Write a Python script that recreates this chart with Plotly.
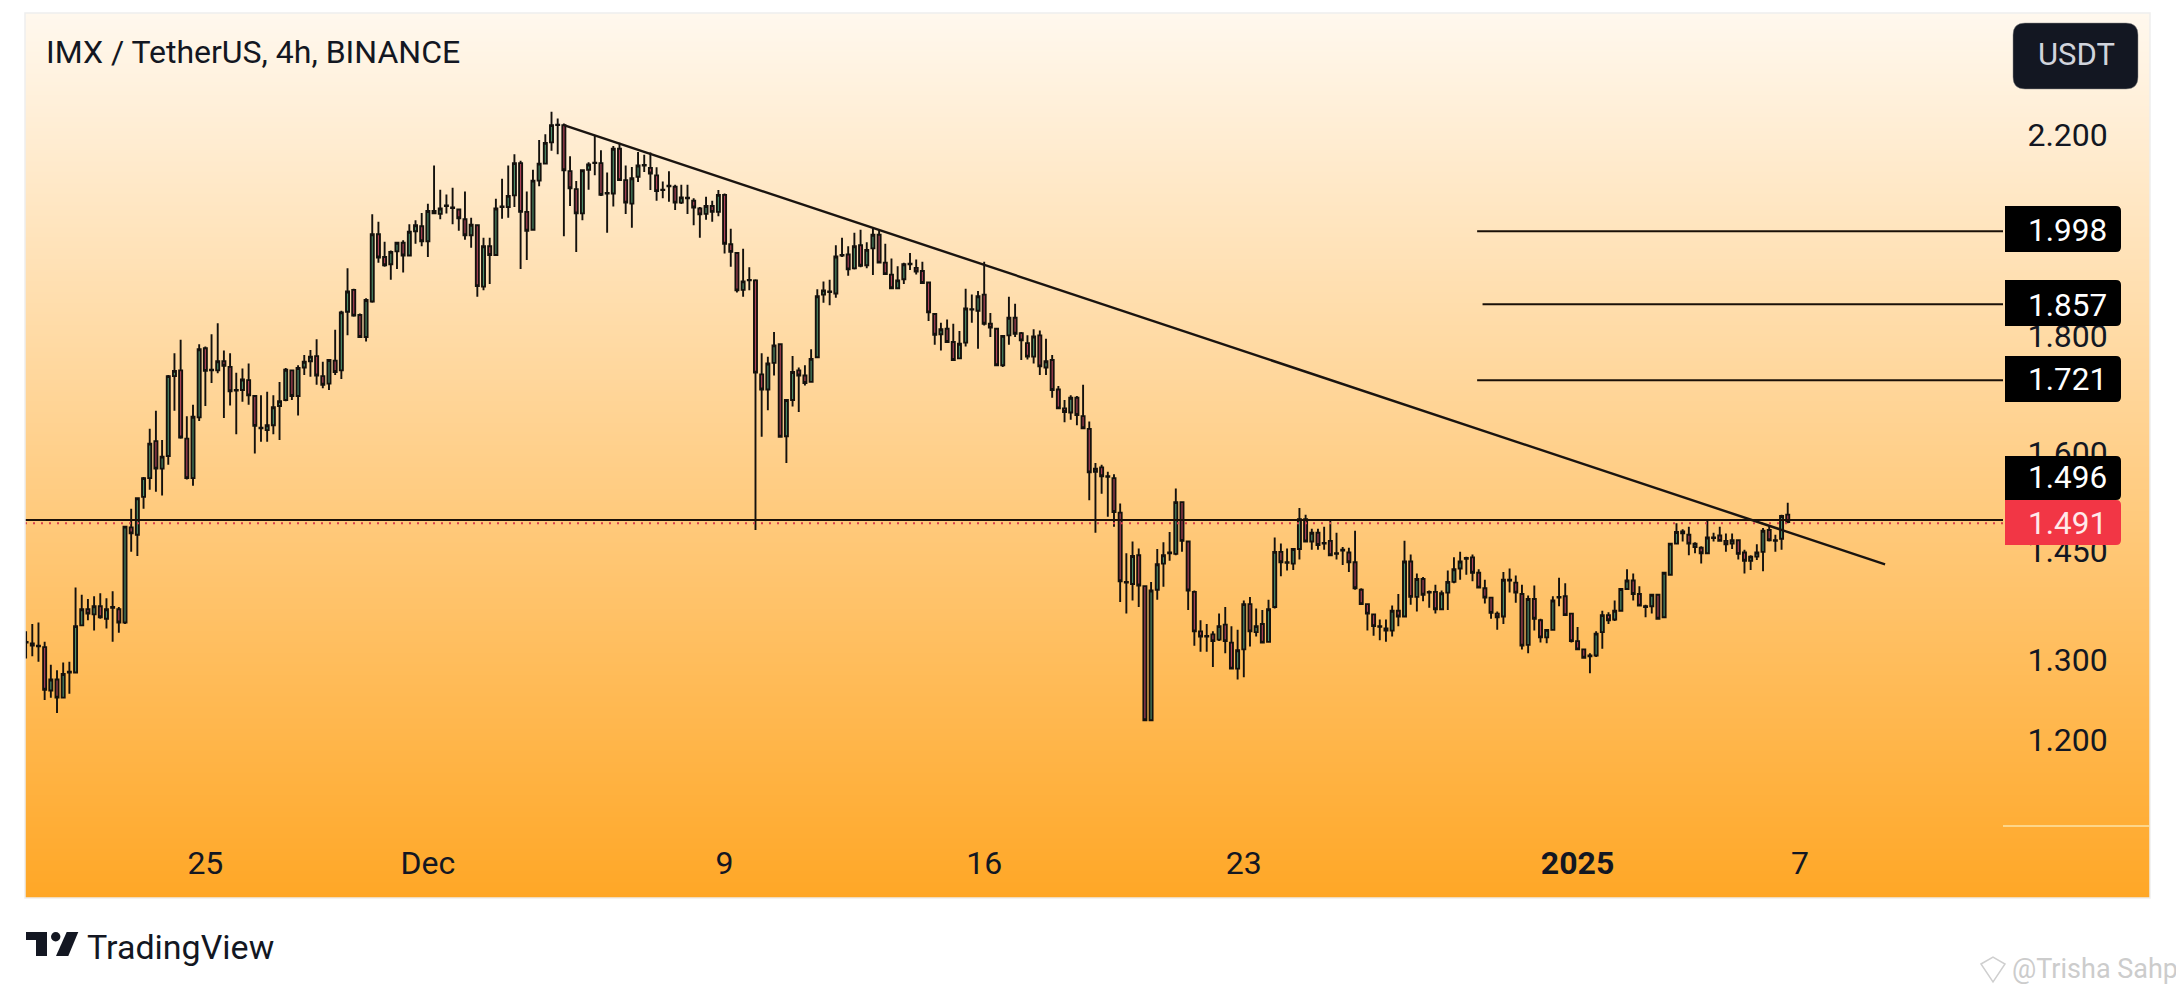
import pandas as pd
import plotly.graph_objects as go

W, H = 2176, 991

opens = [
1.323,1.322,1.319,1.317,1.261,1.275,1.252,1.284,1.284,1.346,
1.368,1.361,1.372,1.355,1.370,1.368,1.350,1.485,1.474,1.531,
1.560,1.619,1.575,1.595,1.728,1.738,1.623,1.560,1.658,1.777,
1.738,1.738,1.754,1.744,1.704,1.704,1.721,1.694,1.640,1.637,
1.645,1.677,1.687,1.738,1.694,1.743,1.754,1.763,1.728,1.715,
1.755,1.738,1.843,1.884,1.837,1.797,1.862,1.992,1.947,1.933,
1.958,1.975,1.950,1.998,2.008,1.978,2.039,2.033,2.049,2.046,
2.042,2.022,1.990,2.010,1.890,1.968,1.951,2.047,2.047,2.071,
2.139,2.037,2.001,2.102,2.138,2.184,2.222,2.222,2.122,2.084,
2.034,2.125,2.139,2.139,2.075,2.075,2.170,2.103,2.054,2.110,
2.134,2.129,2.113,2.082,2.090,2.089,2.056,2.066,2.060,2.044,
2.033,2.049,2.037,2.072,1.972,1.955,1.884,1.902,1.902,1.731,
1.705,1.751,1.784,1.627,1.687,1.738,1.729,1.718,1.761,1.875,
1.881,1.877,1.950,1.952,1.925,1.970,1.931,1.964,1.991,1.936,
1.913,1.887,1.904,1.933,1.926,1.920,1.898,1.839,1.802,1.812,
1.788,1.759,1.787,1.847,1.845,1.875,1.821,1.812,1.747,1.800,
1.832,1.804,1.786,1.762,1.800,1.743,1.756,1.705,1.673,1.666,
1.691,1.660,1.639,1.570,1.577,1.563,1.560,1.507,1.406,1.403,
1.444,1.400,1.224,1.395,1.432,1.448,1.446,1.523,1.464,1.392,
1.338,1.332,1.334,1.327,1.347,1.323,1.289,1.314,1.375,1.337,
1.348,1.324,1.371,1.449,1.433,1.432,1.453,1.497,1.464,1.477,
1.461,1.465,1.447,1.452,1.448,1.434,1.395,1.375,1.361,1.344,
1.342,1.339,1.366,1.358,1.435,1.385,1.410,1.392,1.392,1.368,
1.391,1.406,1.425,1.439,1.441,1.419,1.397,1.384,1.362,1.358,
1.408,1.405,1.389,1.320,1.382,1.353,1.330,1.340,1.385,1.386,
1.362,1.325,1.314,1.306,1.306,1.337,1.360,1.354,1.366,1.396,
1.408,1.389,1.372,1.372,1.388,1.357,1.416,1.461,1.479,1.474,
1.456,1.455,1.447,1.469,1.473,1.465,1.461,1.466,1.448,1.436,
1.442,1.449,1.481,1.466,1.468,1.504]

highs = [
1.338,1.348,1.350,1.324,1.294,1.287,1.297,1.298,1.398,1.388,
1.382,1.386,1.390,1.383,1.393,1.371,1.487,1.513,1.530,1.562,
1.639,1.669,1.621,1.730,1.768,1.792,1.660,1.679,1.784,1.780,
1.802,1.822,1.773,1.768,1.734,1.741,1.750,1.694,1.695,1.701,
1.695,1.718,1.742,1.738,1.747,1.765,1.774,1.793,1.753,1.757,
1.810,1.845,1.925,1.886,1.840,1.868,2.032,2.017,1.977,1.960,
1.977,1.980,2.012,2.020,2.035,2.054,2.134,2.083,2.073,2.087,
2.044,2.079,2.025,2.011,1.985,1.985,2.064,2.106,2.134,2.158,
2.144,2.079,2.125,2.189,2.202,2.252,2.237,2.226,2.154,2.101,
2.125,2.141,2.200,2.167,2.119,2.176,2.183,2.134,2.131,2.163,
2.157,2.162,2.130,2.100,2.122,2.093,2.093,2.093,2.065,2.047,
2.068,2.060,2.082,2.075,2.003,1.957,1.963,1.927,1.904,1.768,
1.762,1.806,1.785,1.688,1.763,1.743,1.747,1.775,1.885,1.900,
1.903,1.970,1.985,1.968,1.995,2.001,1.976,2.003,2.001,1.973,
1.944,1.929,1.936,1.955,1.942,1.938,1.900,1.840,1.823,1.829,
1.821,1.808,1.886,1.875,1.882,1.938,1.841,1.814,1.800,1.871,
1.858,1.806,1.800,1.811,1.809,1.794,1.765,1.711,1.687,1.695,
1.694,1.713,1.651,1.584,1.581,1.570,1.566,1.521,1.447,1.464,
1.454,1.401,1.406,1.453,1.463,1.478,1.544,1.524,1.465,1.394,
1.353,1.348,1.338,1.362,1.371,1.345,1.340,1.380,1.385,1.369,
1.367,1.381,1.470,1.461,1.454,1.454,1.514,1.504,1.483,1.483,
1.486,1.495,1.477,1.456,1.455,1.480,1.397,1.376,1.362,1.354,
1.354,1.373,1.389,1.465,1.445,1.418,1.413,1.394,1.402,1.394,
1.422,1.441,1.449,1.442,1.445,1.424,1.409,1.385,1.365,1.420,
1.425,1.415,1.402,1.387,1.401,1.355,1.341,1.386,1.412,1.404,
1.363,1.344,1.315,1.309,1.338,1.366,1.364,1.380,1.397,1.424,
1.418,1.400,1.374,1.389,1.389,1.419,1.462,1.491,1.482,1.486,
1.463,1.457,1.496,1.477,1.486,1.476,1.476,1.467,1.452,1.444,
1.460,1.484,1.487,1.474,1.504,1.522]

lows = [
1.302,1.305,1.298,1.249,1.252,1.233,1.251,1.257,1.283,1.345,
1.353,1.339,1.355,1.342,1.324,1.336,1.348,1.449,1.443,1.513,
1.542,1.539,1.533,1.581,1.669,1.623,1.558,1.548,1.652,1.677,
1.716,1.733,1.657,1.678,1.630,1.684,1.679,1.599,1.618,1.618,
1.630,1.621,1.685,1.687,1.661,1.730,1.727,1.713,1.707,1.704,
1.730,1.723,1.800,1.834,1.796,1.789,1.860,1.936,1.928,1.903,
1.924,1.917,1.949,1.973,1.968,1.947,2.033,2.022,2.034,2.012,
1.999,1.981,1.965,1.871,1.883,1.895,1.949,2.023,2.025,2.047,
1.924,1.941,2.000,2.090,2.136,2.166,2.158,1.988,2.049,1.957,
2.020,2.083,2.113,2.070,1.995,2.048,2.101,2.033,2.005,2.099,
2.120,2.082,2.060,2.065,2.058,2.041,2.053,2.033,2.010,1.985,
2.021,2.017,2.028,1.954,1.928,1.879,1.871,1.883,1.481,1.626,
1.670,1.729,1.625,1.584,1.676,1.667,1.712,1.717,1.760,1.860,
1.855,1.869,1.947,1.911,1.923,1.927,1.925,1.912,1.935,1.913,
1.885,1.885,1.895,1.922,1.913,1.895,1.826,1.783,1.773,1.787,
1.755,1.758,1.780,1.823,1.776,1.818,1.797,1.745,1.744,1.783,
1.797,1.756,1.757,1.750,1.730,1.730,1.691,1.672,1.650,1.654,
1.645,1.639,1.526,1.477,1.536,1.501,1.486,1.378,1.362,1.380,
1.371,1.224,1.224,1.381,1.399,1.436,1.444,1.449,1.367,1.319,
1.311,1.311,1.291,1.325,1.309,1.288,1.275,1.278,1.318,1.331,
1.322,1.323,1.369,1.414,1.422,1.423,1.438,1.463,1.452,1.452,
1.452,1.443,1.438,1.430,1.420,1.395,1.374,1.339,1.332,1.326,
1.324,1.331,1.345,1.358,1.374,1.365,1.379,1.370,1.362,1.367,
1.367,1.404,1.409,1.416,1.407,1.398,1.376,1.355,1.340,1.348,
1.391,1.377,1.314,1.309,1.339,1.323,1.322,1.339,1.372,1.359,
1.323,1.313,1.302,1.283,1.304,1.315,1.348,1.352,1.365,1.395,
1.380,1.372,1.357,1.362,1.354,1.356,1.415,1.460,1.464,1.444,
1.447,1.432,1.446,1.464,1.464,1.449,1.453,1.438,1.418,1.423,
1.437,1.421,1.464,1.449,1.452,1.491]

closes = [
1.324,1.319,1.318,1.262,1.275,1.252,1.282,1.285,1.345,1.368,
1.362,1.372,1.357,1.368,1.371,1.350,1.486,1.476,1.529,1.560,
1.615,1.575,1.594,1.728,1.737,1.625,1.560,1.659,1.775,1.737,
1.739,1.754,1.746,1.702,1.703,1.722,1.695,1.644,1.641,1.645,
1.675,1.685,1.739,1.694,1.742,1.753,1.762,1.729,1.713,1.756,
1.735,1.842,1.881,1.836,1.797,1.865,1.992,1.946,1.931,1.957,
1.975,1.950,1.997,2.010,1.978,2.039,2.034,2.044,2.050,2.045,
2.024,1.990,2.011,1.891,1.968,1.951,2.044,2.048,2.070,2.139,
2.037,1.999,2.102,2.138,2.183,2.222,2.223,2.124,2.086,2.034,
2.124,2.136,2.140,2.072,2.076,2.170,2.103,2.056,2.107,2.134,
2.135,2.117,2.080,2.083,2.091,2.056,2.067,2.065,2.046,2.032,
2.049,2.037,2.072,1.973,1.957,1.883,1.900,1.903,1.734,1.705,
1.750,1.782,1.626,1.687,1.735,1.729,1.716,1.758,1.872,1.883,
1.880,1.948,1.951,1.923,1.968,1.930,1.961,1.991,1.936,1.914,
1.887,1.902,1.933,1.934,1.919,1.897,1.842,1.801,1.811,1.788,
1.756,1.785,1.849,1.848,1.872,1.821,1.814,1.747,1.799,1.832,
1.803,1.791,1.762,1.798,1.745,1.754,1.704,1.673,1.667,1.691,
1.662,1.640,1.569,1.575,1.563,1.562,1.508,1.407,1.405,1.443,
1.401,1.224,1.394,1.431,1.444,1.447,1.523,1.465,1.394,1.338,
1.331,1.331,1.325,1.345,1.325,1.289,1.313,1.375,1.338,1.345,
1.323,1.368,1.449,1.434,1.434,1.453,1.497,1.464,1.477,1.459,
1.462,1.444,1.446,1.451,1.434,1.397,1.375,1.362,1.345,1.345,
1.339,1.366,1.358,1.435,1.385,1.410,1.388,1.391,1.368,1.390,
1.406,1.424,1.435,1.440,1.419,1.398,1.384,1.363,1.357,1.409,
1.409,1.391,1.319,1.382,1.355,1.330,1.340,1.380,1.384,1.360,
1.325,1.314,1.303,1.305,1.335,1.360,1.353,1.366,1.396,1.408,
1.389,1.373,1.371,1.388,1.355,1.419,1.461,1.478,1.476,1.461,
1.461,1.447,1.470,1.470,1.465,1.460,1.466,1.446,1.436,1.442,
1.448,1.480,1.466,1.465,1.502,1.493]

dates = pd.date_range("2024-11-20 04:00", periods=len(opens), freq="4h")

x_ticks = ["2024-11-25", "2024-12-01", "2024-12-09", "2024-12-16", "2024-12-23", "2025-01-01", "2025-01-07"]
x_labels = ["25", "Dec", "9", "16", "23", "<b>2025</b>", "7"]
y_ticks = [1.2, 1.3, 1.45, 1.6, 1.8, 2.2]
y_labels = ["1.200", "1.300", "1.450", "1.600", "1.800", "2.200"]

x_start, x_end = "2024-11-20 03:17", "2025-01-12 11:18"
trend_x = ["2024-12-04 16:00", "2025-01-09 07:00"]
trend_y = [2.222, 1.431]
level_values = [1.998, 1.857, 1.721]
level_starts = ["2024-12-29 07:00", "2024-12-29 10:30", "2024-12-29 07:00"]
last_line = 1.496
last_close = 1.491

INK = "#131722"


def fx(p):
    return p / W


def fy(p):
    return 1 - p / H


def rrect(x0, y0, x1, y1, r, left=True):
    a = [fx(x0), fx(x1), fy(y0), fy(y1)]
    rx, ry = r / W, r / H
    if left:
        return (f"M{a[0]+rx},{a[2]} L{a[1]-rx},{a[2]} Q{a[1]},{a[2]} {a[1]},{a[2]-ry} "
                f"L{a[1]},{a[3]+ry} Q{a[1]},{a[3]} {a[1]-rx},{a[3]} L{a[0]+rx},{a[3]} "
                f"Q{a[0]},{a[3]} {a[0]},{a[3]+ry} L{a[0]},{a[2]-ry} Q{a[0]},{a[2]} {a[0]+rx},{a[2]} Z")
    return (f"M{a[0]},{a[2]} L{a[1]-rx},{a[2]} Q{a[1]},{a[2]} {a[1]},{a[2]-ry} "
            f"L{a[1]},{a[3]+ry} Q{a[1]},{a[3]} {a[1]-rx},{a[3]} L{a[0]},{a[3]} Z")


def poly(points):
    return "M" + " L".join(f"{fx(a)},{fy(b)}" for a, b in points) + " Z"


fig = go.Figure()

fig.add_trace(go.Heatmap(z=[[0, 0], [1, 1]], x=[0, 1], y=[0, 1], zsmooth="best", showscale=False,
                         colorscale=[[0, "#ffa726"], [1, "#fff8ee"]], hoverinfo="skip",
                         xaxis="x", yaxis="y"))

fig.add_trace(go.Scatter(x=[x_start, x_end], y=[last_close, last_close], mode="lines", xaxis="x2", yaxis="y2",
                         line=dict(color="#d9404e", width=2, dash="2px,6px"), hoverinfo="skip", showlegend=False))
fig.add_trace(go.Scatter(x=[x_start, x_end], y=[last_line, last_line], mode="lines", xaxis="x2", yaxis="y2",
                         line=dict(color="#1c1008", width=2), hoverinfo="skip", showlegend=False))

fig.add_trace(go.Candlestick(x=dates, open=opens, high=highs, low=lows, close=closes, xaxis="x2", yaxis="y2",
                             whiskerwidth=0, showlegend=False,
                             increasing=dict(fillcolor="#4f8f6c", line=dict(color="#14110d", width=1.9)),
                             decreasing=dict(fillcolor="#b2445a", line=dict(color="#14110d", width=1.9))))

fig.add_trace(go.Scatter(x=trend_x, y=trend_y, mode="lines", xaxis="x2", yaxis="y2",
                         line=dict(color="#1a1410", width=2.4), hoverinfo="skip", showlegend=False))
for v, s in zip(level_values, level_starts):
    fig.add_trace(go.Scatter(x=[s, x_end], y=[v, v], mode="lines", xaxis="x2", yaxis="y2",
                             line=dict(color="#1a1008", width=2), hoverinfo="skip", showlegend=False))

shapes = [
    dict(type="rect", xref="paper", yref="paper", x0=fx(25), x1=fx(2150), y0=fy(13), y1=fy(898),
         line=dict(color="#eeeeee", width=1.5), fillcolor="rgba(0,0,0,0)"),
    dict(type="line", xref="paper", yref="paper", x0=fx(2003), x1=fx(2150), y0=fy(826), y1=fy(826),
         line=dict(color="#fde3a7", width=1.5)),
    dict(type="path", xref="paper", yref="paper", path=rrect(2013, 23, 2138, 89, 12),
         fillcolor=INK, line=dict(color="#8a8a8a", width=0.5)),
]
box_rows = [(206, 252, "#000000"), (280, 326, "#000000"), (356, 402, "#000000"), (500, 545, "#f23645"), (456, 500, "#000000")]
for top, bottom, colour in box_rows:
    shapes.append(dict(type="path", xref="paper", yref="paper", path=rrect(2005, top, 2121, bottom, 5, left=False),
                       fillcolor=colour, line=dict(width=0)))
shapes += [
    dict(type="path", xref="paper", yref="paper", fillcolor=INK, line=dict(width=0),
         path=poly([(26, 932), (47, 932), (47, 956), (36, 956), (36, 940), (26, 940)])),
    dict(type="path", xref="paper", yref="paper", fillcolor=INK, line=dict(width=0),
         path=poly([(66.7, 932), (78.3, 932), (68.3, 956), (56, 956)])),
    dict(type="circle", xref="paper", yref="paper", x0=fx(51), x1=fx(60.4), y0=fy(932), y1=fy(941.4),
         fillcolor=INK, line=dict(width=0)),
    dict(type="path", xref="paper", yref="paper", fillcolor="rgba(0,0,0,0)", line=dict(color="#cfcfcf", width=1.5),
         path=poly([(1981, 964), (1993, 957), (2005, 964), (1993, 982)])),
]


def label(text, x, y, size, colour, anchor="center", family="Roboto"):
    return dict(text=text, xref="paper", yref="paper", x=fx(x), y=fy(y), showarrow=False, xanchor=anchor,
                yanchor="middle", font=dict(family=family, size=size, color=colour))


annotations = [
    label("IMX / TetherUS, 4h, BINANCE", 44, 52, 32, INK, "left"),
    label("USDT", 2076, 55, 31, "#d1d4dc"),
    label("1.998", 2067, 230, 31.5, "#ffffff"),
    label("1.857", 2067, 305, 31.5, "#ffffff"),
    label("1.721", 2067, 379, 31.5, "#ffffff"),
    label("1.496", 2067, 478, 31.5, "#ffffff"),
    label("1.491", 2067, 523, 31.5, "#ffe9ea"),
    label("TradingView", 85, 947, 34, INK, "left"),
    label("@Trisha Sahp", 2010, 969, 27, "#cccccc", "left"),
]

fig.update_layout(
    width=W, height=H, margin=dict(l=0, r=0, t=0, b=0), paper_bgcolor="#ffffff", plot_bgcolor="rgba(0,0,0,0)",
    showlegend=False, shapes=shapes, annotations=annotations, hovermode=False,
    xaxis=dict(domain=[fx(25), fx(2150)], range=[0, 1], visible=False, fixedrange=True),
    yaxis=dict(domain=[fy(898), fy(13)], range=[0, 1], visible=False, fixedrange=True),
    xaxis2=dict(domain=[fx(25), fx(2003)], anchor="y2", type="date", range=[x_start, x_end],
                rangeslider=dict(visible=False), showgrid=False, zeroline=False, showline=False,
                tickmode="array", tickvals=x_ticks, ticktext=x_labels, ticks="outside", ticklen=9,
                tickcolor="rgba(0,0,0,0)", tickfont=dict(family="Roboto", size=32, color=INK)),
    yaxis2=dict(domain=[fy(826), fy(13)], anchor="x2", side="right", type="log", range=[0.04175, 0.39556],
                showgrid=False, zeroline=False, showline=False, tickmode="array", tickvals=y_ticks, ticktext=y_labels,
                ticks="outside", ticklen=17, tickcolor="rgba(0,0,0,0)",
                tickfont=dict(family="Roboto", size=32, color=INK)),
)

fig.write_html("out.html", config=dict(displayModeBar=False),
               post_script="document.body.style.margin='0';document.documentElement.style.overflow='hidden';")
